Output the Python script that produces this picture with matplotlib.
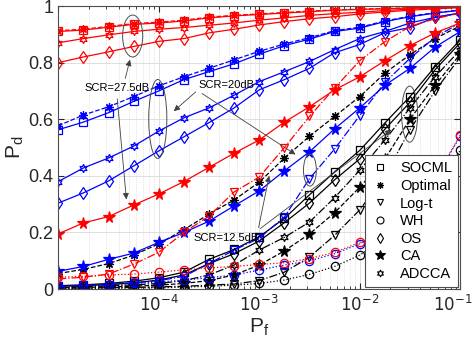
import matplotlib
matplotlib.use("Agg")
import matplotlib.pyplot as plt
import matplotlib.transforms as mtransforms
from matplotlib.lines import Line2D
from matplotlib.patches import Ellipse
from matplotlib.ticker import LogLocator, NullFormatter, FixedLocator, FixedFormatter

plt.rcParams['font.family'] = ['Liberation Sans', 'DejaVu Sans']

# false alarm probabilities (quarter-decade steps from 1e-5 to 1e-1)
pf = [1.0e-5, 1.78e-5, 3.16e-5, 5.62e-5, 1.0e-4, 1.78e-4, 3.16e-4, 5.62e-4,
      1.0e-3, 1.78e-3, 3.16e-3, 5.62e-3, 1.0e-2, 1.78e-2, 3.16e-2, 5.62e-2, 1.0e-1]

# SCR = 27.5 dB (red)
r_socml = [0.910, 0.915, 0.925, 0.935, 0.940, 0.947, 0.958, 0.965, 0.970, 0.975, 0.980, 0.985, 0.988, 0.990, 0.993, 0.996, 0.998]
r_opt = [0.913, 0.918, 0.928, 0.938, 0.943, 0.950, 0.961, 0.967, 0.972, 0.977, 0.982, 0.986, 0.989, 0.991, 0.994, 0.996, 0.998]
r_logt = [0.036, 0.042, 0.053, 0.088, 0.130, 0.200, 0.258, 0.343, 0.396, 0.500, 0.610, 0.710, 0.807, 0.874, 0.928, 0.955, 0.975]
r_wh = [0.042, 0.045, 0.050, 0.053, 0.060, 0.068, 0.075, 0.080, 0.087, 0.093, 0.108, 0.130, 0.165, 0.215, 0.290, 0.390, 0.545]
r_os = [0.800, 0.820, 0.838, 0.857, 0.875, 0.885, 0.905, 0.918, 0.933, 0.945, 0.955, 0.962, 0.972, 0.979, 0.985, 0.990, 0.994]
r_ca = [0.195, 0.234, 0.256, 0.297, 0.336, 0.380, 0.430, 0.480, 0.527, 0.590, 0.644, 0.704, 0.750, 0.807, 0.860, 0.905, 0.940]
r_adcca = [0.870, 0.885, 0.898, 0.910, 0.918, 0.924, 0.932, 0.940, 0.950, 0.958, 0.967, 0.973, 0.978, 0.984, 0.989, 0.993, 0.996]

# SCR = 20 dB (blue)
b_socml = [0.563, 0.590, 0.623, 0.663, 0.700, 0.740, 0.768, 0.796, 0.830, 0.860, 0.883, 0.910, 0.922, 0.945, 0.962, 0.975, 0.985]
b_opt = [0.577, 0.615, 0.644, 0.680, 0.718, 0.750, 0.780, 0.810, 0.840, 0.866, 0.888, 0.913, 0.925, 0.947, 0.964, 0.976, 0.986]
b_logt = [0.010, 0.013, 0.016, 0.022, 0.030, 0.045, 0.090, 0.138, 0.180, 0.255, 0.390, 0.495, 0.613, 0.730, 0.815, 0.890, 0.940]
b_wh = [0.012, 0.014, 0.016, 0.020, 0.025, 0.032, 0.040, 0.050, 0.067, 0.085, 0.100, 0.125, 0.160, 0.215, 0.290, 0.390, 0.540]
b_os = [0.304, 0.340, 0.382, 0.435, 0.488, 0.538, 0.588, 0.640, 0.704, 0.740, 0.780, 0.835, 0.864, 0.906, 0.924, 0.960, 0.975]
b_ca = [0.063, 0.080, 0.105, 0.127, 0.165, 0.200, 0.240, 0.294, 0.347, 0.418, 0.485, 0.566, 0.640, 0.720, 0.780, 0.855, 0.910]
b_adcca = [0.380, 0.428, 0.463, 0.505, 0.558, 0.605, 0.640, 0.685, 0.733, 0.768, 0.804, 0.846, 0.885, 0.910, 0.940, 0.960, 0.975]

# SCR = 12.5 dB (black)
k_socml = [0.012, 0.015, 0.020, 0.028, 0.040, 0.060, 0.105, 0.140, 0.185, 0.250, 0.333, 0.414, 0.490, 0.587, 0.680, 0.786, 0.880]
k_opt = [0.055, 0.070, 0.090, 0.120, 0.160, 0.210, 0.265, 0.315, 0.378, 0.463, 0.540, 0.610, 0.680, 0.763, 0.828, 0.885, 0.930]
k_logt = [0.003, 0.004, 0.005, 0.006, 0.008, 0.010, 0.014, 0.018, 0.030, 0.060, 0.113, 0.190, 0.280, 0.400, 0.563, 0.700, 0.820]
k_wh = [0.002, 0.002, 0.003, 0.004, 0.005, 0.007, 0.010, 0.014, 0.020, 0.032, 0.052, 0.080, 0.120, 0.180, 0.260, 0.360, 0.490]
k_os = [0.010, 0.012, 0.016, 0.022, 0.032, 0.050, 0.090, 0.125, 0.170, 0.235, 0.304, 0.386, 0.460, 0.565, 0.660, 0.775, 0.870]
k_ca = [0.005, 0.006, 0.008, 0.010, 0.014, 0.020, 0.030, 0.050, 0.085, 0.135, 0.195, 0.270, 0.360, 0.460, 0.600, 0.720, 0.830]
k_adcca = [0.007, 0.009, 0.011, 0.015, 0.020, 0.030, 0.050, 0.085, 0.138, 0.183, 0.237, 0.323, 0.420, 0.527, 0.640, 0.750, 0.845]

names = ["SOCML", "Optimal", "Log-t", "WH", "OS", "CA", "ADCCA"]
markers = ['s', (8, 2, 0), 'v', 'o', 'd', '*', (6, 1, 0)]
filled = [False, True, False, False, False, True, False]
styles_rb = ['-', '--', '-.', ':', '-', '-', '-']
styles_k = ['-', '--', '-.', ':', '-', '--', '-.']

groups = [
    ('red', [r_socml, r_opt, r_logt, r_wh, r_os, r_ca, r_adcca], styles_rb),
    ('blue', [b_socml, b_opt, b_logt, b_wh, b_os, b_ca, b_adcca], styles_rb),
    ('black', [k_socml, k_opt, k_logt, k_wh, k_os, k_ca, k_adcca], styles_k),
]

fig = plt.figure(figsize=(4.74, 3.53), dpi=100)
ax = fig.add_axes([0.123, 0.181, 0.848, 0.802])

for color, series, styles in reversed(groups):
    for vals, mk, fl, ls in zip(series, markers, filled, styles):
        size = 8.5 if mk == '*' else 6
        ax.plot(pf, vals, linestyle=ls, color=color, lw=0.9, marker=mk,
                markersize=size, markerfacecolor=color if fl else 'none',
                markeredgecolor=color, markeredgewidth=0.9)

ax.set_xscale('log')
ax.set_xlim(1e-5, 1e-1)
ax.set_ylim(0, 1)
ax.xaxis.set_major_locator(FixedLocator([1e-5, 1e-4, 1e-3, 1e-2, 1e-1]))
ax.xaxis.set_major_formatter(FixedFormatter(['', r'$10^{-4}$', r'$10^{-3}$', r'$10^{-2}$', r'$10^{-1}$']))
ax.xaxis.set_minor_locator(LogLocator(base=10, subs=range(2, 10)))
ax.xaxis.set_minor_formatter(NullFormatter())
ax.set_yticks([0, 0.2, 0.4, 0.6, 0.8, 1])
ax.set_yticklabels(['0', '0.2', '0.4', '0.6', '0.8', '1'])

ax.grid(True, which='major', color='0.85', lw=0.6)
ax.grid(True, which='minor', axis='x', color='0.8', lw=0.5, linestyle=':')
ax.set_axisbelow(True)
ax.tick_params(which='both', direction='in', top=True, right=True, colors='0.15')
ax.tick_params(which='major', length=4)
ax.tick_params(which='minor', length=2)
for s in ax.spines.values():
    s.set_color('0.3')
    s.set_linewidth(0.8)
plt.setp(ax.get_yticklabels(), fontsize=13)
plt.setp(ax.get_xticklabels(), fontsize=12)
# nudge the last x label so it stays inside the figure
last = ax.get_xticklabels()[-1]
last.set_transform(last.get_transform() + mtransforms.ScaledTranslation(-8 / 100, 0, fig.dpi_scale_trans))

ax.set_xlabel(r'P$_\mathregular{f}$', fontsize=15, color='0.15', labelpad=2)
ax.set_ylabel(r'P$_\mathregular{d}$', fontsize=15, color='0.15', labelpad=2)

# annotations
aprops = dict(arrowstyle='-|>', color='0.25', lw=0.6, mutation_scale=9)
ax.text(0.146, 0.710, 'SCR=27.5dB', transform=ax.transAxes, fontsize=8, ha='center', va='center')
ax.annotate('', xy=(0.180, 0.820), xytext=(0.165, 0.735), xycoords='axes fraction', arrowprops=aprops)
ax.annotate('', xy=(0.170, 0.307), xytext=(0.146, 0.682), xycoords='axes fraction', arrowprops=aprops)
ax.text(0.419, 0.721, 'SCR=20dB', transform=ax.transAxes, fontsize=8, ha='center', va='center')
ax.annotate('', xy=(0.282, 0.622), xytext=(0.347, 0.703), xycoords='axes fraction', arrowprops=aprops)
ax.annotate('', xy=(0.596, 0.470), xytext=(0.352, 0.696), xycoords='axes fraction', arrowprops=aprops)
ax.text(0.417, 0.180, 'SCR=12.5dB', transform=ax.transAxes, fontsize=8, ha='center', va='center')
ax.annotate('', xy=(0.526, 0.410), xytext=(0.497, 0.208), xycoords='axes fraction', arrowprops=aprops)
ax.annotate('', xy=(0.834, 0.569), xytext=(0.497, 0.208), xycoords='axes fraction', arrowprops=aprops)

for cx, cy, w, h in [(0.185, 0.894, 0.05, 0.148), (0.2475, 0.601, 0.045, 0.279),
                     (0.626, 0.4205, 0.032, 0.113), (0.874, 0.618, 0.04, 0.198)]:
    ax.add_patch(Ellipse((cx, cy), w, h, transform=ax.transAxes, fill=False,
                         edgecolor='0.3', lw=0.7, zorder=5))

handles = []
for nm, mk, fl in zip(names, markers, filled):
    size = 7 if mk == '*' else 5
    handles.append(Line2D([], [], linestyle='none', marker=mk, color='k', markersize=size,
                          markerfacecolor='k' if fl else 'none', markeredgewidth=0.8, label=nm))
leg = ax.legend(handles=handles, loc='lower right', bbox_to_anchor=(1.0, 0.0),
                fontsize=10.5, frameon=True, fancybox=False, edgecolor='0.3',
                framealpha=1, labelspacing=0.25, handlelength=1.2, handletextpad=0.8,
                borderpad=0.4, borderaxespad=0.15)
leg.get_frame().set_linewidth(0.8)
leg.set_zorder(10)

fig.savefig('out.png', dpi=100)
